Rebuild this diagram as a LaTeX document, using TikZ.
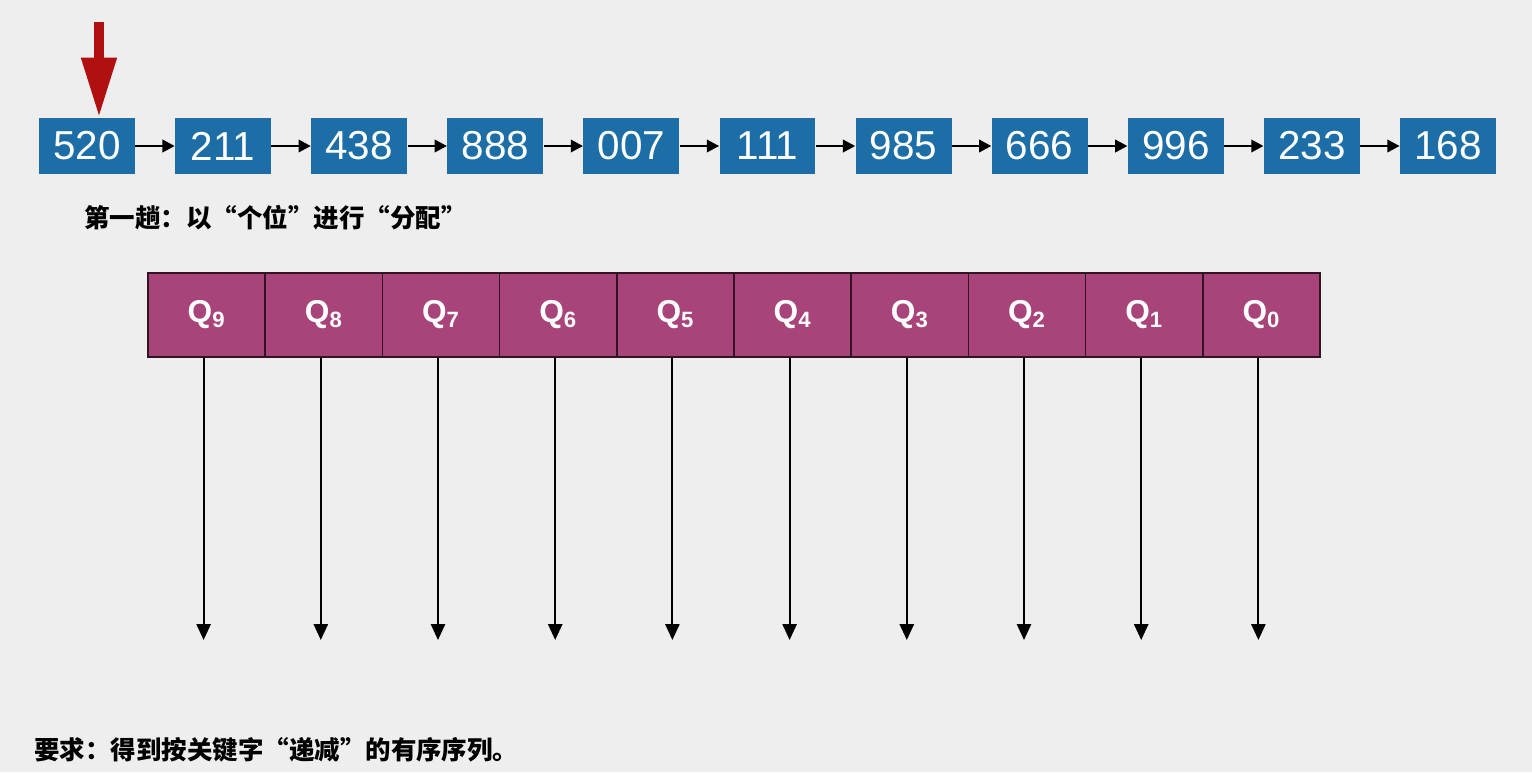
\documentclass[tikz,border=0pt]{standalone}
\usepackage{fontspec}
\setmainfont{Liberation Sans}
\newfontfamily\cjk{Noto Sans CJK SC}
\usetikzlibrary{arrows.meta}
\definecolor{bg}{HTML}{EEEEEE}
\definecolor{nblue}{HTML}{1D6EA6}
\definecolor{qmag}{HTML}{A8447A}
\definecolor{redarr}{HTML}{B01010}
\begin{document}
\begin{tikzpicture}[x=0.02cm,y=-0.02cm,
  numbox/.style={fill=nblue,minimum width=1.92cm,minimum height=1.12cm,inner sep=0pt,text=white,font=\fontsize{23}{23}\selectfont},
  qcell/.style={fill=qmag,draw=black!70!qmag,line width=0.8pt,minimum width=2.344cm,minimum height=1.68cm,inner sep=0pt,text=white,font=\bfseries\fontsize{18}{18}\selectfont},
  link/.style={-{Triangle[length=7pt,width=7pt]},line width=1.5pt},
  down/.style={-{Triangle[length=9pt,width=8pt]},line width=1.2pt},
  cn/.style={anchor=west,inner sep=0pt,font=\cjk\bfseries\fontsize{14.5}{14.5}\selectfont}]
\fill[bg] (0,0) rectangle (1532,772);
\useasboundingbox (0,0) rectangle (1532,772);
\foreach \v [count=\i from 0] in {520,211,438,888,007,111,985,666,996,233,168}{
  \node[numbox] (n\i) at ({87+136.1*\i},146) {\v};
}
\foreach \i [evaluate=\i as \j using int(\i+1)] in {0,...,9}{
  \draw[link] (n\i.east) -- (n\j.west);
}
\coordinate (rtop) at (99,22);
\draw[redarr,-{Triangle[length=1.2cm,width=0.66cm]},line width=6pt] (rtop) -- (n0.north -| rtop);
\node[cn] (t1) at (84,218) {第一趟：以“个位”进行“分配”};
\foreach \q [count=\i from 0] in {9,8,7,6,5,4,3,2,1,0}{
  \node[qcell] (q\i) at ({206.6+117.2*\i},315) {Q\textsubscript{\q}};
  \coordinate (e\i) at ({206.6+117.2*\i-3},640);
  \draw[down] (q\i.south -| e\i) -- (e\i);
}
\node[cn] (t2) at (34,750) {要求：得到按关键字“递减”的有序序列。};
\end{tikzpicture}
\end{document}
